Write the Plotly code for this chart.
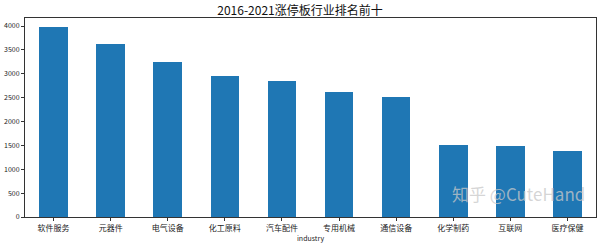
import plotly.graph_objects as go

industries = ["软件服务", "元器件", "电气设备", "化工原料", "汽车配件",
              "专用机械", "通信设备", "化学制药", "互联网", "医疗保健"]
counts = [3970, 3625, 3255, 2960, 2840, 2615, 2505, 1515, 1495, 1375]
y_ticks = [0, 500, 1000, 1500, 2000, 2500, 3000, 3500, 4000]

font_family = "Noto Sans CJK SC, DejaVu Sans, sans-serif"

fig = go.Figure(go.Bar(
    x=list(range(len(industries))),
    y=counts,
    width=0.5,
    marker=dict(color="#1f77b4", line=dict(width=0)),
))

fig.update_layout(
    width=600, height=243,
    margin=dict(l=25, r=4, t=18, b=26),
    paper_bgcolor="white", plot_bgcolor="white",
    showlegend=False,
    font=dict(family=font_family, color="#222"),
    title=dict(text="2016-2021涨停板行业排名前十", x=0.5, xanchor="center",
               y=0.955, yanchor="middle", font=dict(size=12, color="#111")),
    bargap=0,
)
fig.update_xaxes(
    range=[-0.5, len(industries) - 0.5],
    tickmode="array", tickvals=list(range(len(industries))), ticktext=industries,
    ticks="outside", ticklen=3, tickwidth=1, tickcolor="#333",
    tickfont=dict(size=8, color="#222"),
    showline=True, linecolor="#333", linewidth=1, mirror=True,
    showgrid=False, zeroline=False,
    title=dict(text="industry", font=dict(size=7, color="#222"), standoff=0),
)
fig.update_yaxes(
    range=[0, max(counts) * 1.05],
    tickmode="array", tickvals=y_ticks, ticktext=[str(v) for v in y_ticks],
    ticks="outside", ticklen=3, tickwidth=1, tickcolor="#333",
    tickfont=dict(size=7, color="#222"),
    showline=True, linecolor="#333", linewidth=1, mirror=True,
    showgrid=False, zeroline=False,
)
fig.add_annotation(
    text="知乎 @CuteHand", xref="paper", yref="paper", x=0.985, y=0.12,
    xanchor="right", yanchor="middle", showarrow=False,
    font=dict(size=17, color="rgba(200,200,200,0.75)", family=font_family),
)

fig.write_html("out.html")
